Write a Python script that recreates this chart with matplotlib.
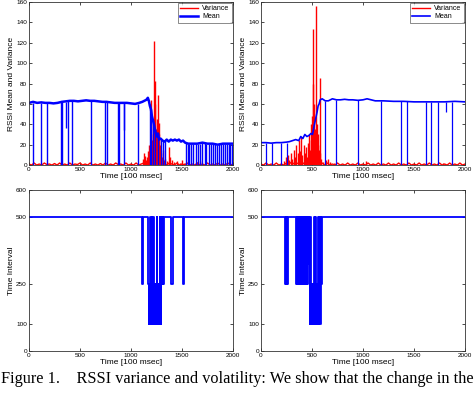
import matplotlib
matplotlib.use("Agg")
import matplotlib.pyplot as plt
import numpy as np

plt.rcParams["font.family"] = ["Liberation Sans", "DejaVu Sans"]

# ---- top panels: RSSI mean (anchor points) ----
left_mean_t = [0, 40, 80, 120, 160, 200, 240, 280, 320, 360, 400, 440, 480, 520, 560,
               600, 640, 680, 720, 760, 800, 840, 880, 920, 960, 1000, 1040, 1080, 1110,
               1130, 1150, 1165, 1175, 1185, 1195, 1205, 1215, 1225, 1235, 1245, 1255,
               1265, 1275, 1290, 1310, 1330, 1350, 1370, 1390, 1410, 1430, 1450, 1470,
               1490, 1510, 1530, 1560, 1600, 1650, 1700, 1750, 1800, 1850, 1900, 1950, 2000]
left_mean_v = [61, 62, 61, 61.5, 61, 61, 60.5, 61, 62, 62.5, 63, 63, 62.5, 63, 63.5,
               63, 63, 62.5, 62, 62, 61.5, 61, 61, 61, 61, 60.5, 60, 61, 62,
               63, 64, 66, 63, 58, 55, 48, 44, 40, 35, 30, 28,
               31, 25, 26, 24, 23, 25, 23, 25, 24, 25, 24, 25,
               23, 24, 22, 21, 21, 21, 22, 21, 21, 20, 21, 21, 21]

right_mean_t = [0, 50, 100, 150, 200, 250, 280, 310, 340, 370, 390, 410, 430, 450, 470,
                490, 505, 520, 535, 550, 560, 570, 580, 600, 630, 660, 700, 740, 780, 820,
                860, 900, 950, 1000, 1040, 1080, 1120, 1200, 1300, 1400, 1500, 1600, 1700,
                1800, 1900, 2000]
right_mean_v = [22, 22, 21.5, 22, 22, 22.5, 23, 24, 25, 24, 28, 26, 30, 28, 29,
                31, 30, 38, 45, 52, 58, 60, 64, 65, 63, 63, 65, 64, 64, 64.5,
                64, 64, 63.5, 64, 65, 64, 63, 63, 62.5, 62.5, 62, 62, 62,
                62, 62.5, 62]

# dips of the mean (vertical drops)
left_dip_t = [36, 121, 177, 313, 319, 362, 384, 420, 603, 747, 765, 870, 878, 929, 935,
              1070, 1185, 1198, 1212, 1238, 1262, 1292, 1315, 1335, 1535, 1555, 1572,
              1590, 1612, 1635, 1655, 1680, 1700, 1722, 1740, 1762, 1785, 1805, 1822,
              1845, 1862, 1880, 1898, 1918, 1940, 1958, 1975, 1990]
left_dip_lo = [0, 0, 0, 0, 0, 36, 0, 0, 0, 0, 0, 0, 0, 0, 34,
               0, 0, 0, 0, 0, 0, 0, 0, 0, 0, 0, 0,
               0, 0, 0, 0, 0, 0, 0, 0, 0, 0, 0, 0,
               0, 0, 0, 0, 0, 0, 0, 0, 0]
left_dip_hi = [61, 61, 61, 62, 62, 62, 63, 63, 63, 62, 62, 61, 61, 61, 61,
               60, 60, 55, 45, 35, 28, 25, 24, 25, 22, 21, 21,
               21, 21, 21, 21, 21, 22, 22, 21, 21, 21, 21, 21,
               20, 21, 21, 21, 21, 21, 21, 21, 21]

right_dip_t = [45, 110, 192, 253, 628, 738, 955, 1175, 1375, 1432, 1622, 1670, 1735, 1815, 1868]
right_dip_lo = [0, 0, 0, 0, 0, 0, 0, 0, 0, 0, 0, 0, 0, 52, 0]
right_dip_hi = [22, 22, 22, 22, 63, 64, 64, 63, 62.5, 62.5, 62, 62, 62, 62, 62]

# ---- variance: low baseline + spikes ----
var_base_t = [0, 25, 50, 75, 100, 125, 150, 175, 200, 225, 250, 275, 300, 325, 350, 375,
              400, 425, 450, 475, 500, 525, 550, 575, 600, 625, 650, 675, 700, 725, 750,
              775, 800, 825, 850, 875, 900, 925, 950, 975, 1000, 1025, 1050, 1075, 1100,
              1125, 1150, 1175, 1200, 1225, 1250, 1275, 1300, 1325, 1350, 1375, 1400,
              1425, 1450, 1475, 1500, 1525, 1550, 1575, 1600, 1625, 1650, 1675, 1700,
              1725, 1750, 1775, 1800, 1825, 1850, 1875, 1900, 1925, 1950, 1975, 2000]
left_var_base = [1, 0, 2, 0, 1, 0, 2, 0.5, 1, 0, 1.5, 0, 2, 0, 1, 0, 2, 0, 1, 0.5, 2,
                 0, 1, 0, 2, 0, 1, 0, 1.5, 0, 2, 0, 1, 0, 2, 0.5, 1, 0, 2, 0, 1,
                 0, 2, 0, 1, 2, 0, 3, 1, 2, 0, 3, 1, 2, 0, 2, 1, 0, 2, 0, 1,
                 0, 2, 0, 1, 0, 2, 0, 1, 0, 2, 0, 1, 0, 2, 0, 1, 0, 2, 0, 1]
right_var_base = [1, 0, 2, 0, 1, 0, 2, 0, 1, 0, 2, 1, 3, 1, 2, 1, 3, 1, 2, 1, 3,
                  1, 2, 1, 2, 0, 2, 0, 1, 0, 2, 0, 1, 0, 2, 0, 1, 0, 2, 0, 1,
                  0, 2, 0, 1, 0, 2, 0, 1, 0, 2, 0, 1, 0, 2, 0, 1, 0, 2, 0, 1,
                  0, 2, 0, 1, 0, 2, 0, 1, 0, 2, 0, 1, 0, 2, 0, 1, 0, 2, 0, 1]

left_spike_t = [1120, 1130, 1140, 1150, 1160, 1170, 1178, 1185, 1192, 1197, 1204, 1210,
                1218, 1225, 1232, 1238, 1245, 1252, 1258, 1264, 1270, 1275, 1282, 1290,
                1300, 1310, 1320, 1335, 1350, 1370, 1380, 1400, 1420, 1450, 1480, 1500,
                1520, 1560, 1650, 1680]
left_spike_h = [6, 12, 9, 5, 8, 14, 20, 10, 30, 64, 18, 25,
                40, 122, 60, 82, 35, 25, 45, 69, 30, 41, 20, 12,
                8, 15, 5, 6, 4, 18, 8, 5, 3, 4, 2, 5,
                2, 3, 3, 4]

right_spike_t = [230, 250, 262, 275, 290, 305, 320, 335, 345, 360, 372, 385, 395, 405,
                 418, 430, 440, 452, 460, 470, 480, 488, 495, 503, 509, 514, 519, 525,
                 532, 542, 548, 555, 562, 568, 574, 580, 590, 610, 640, 660, 680, 720,
                 1030, 1780]
right_spike_h = [4, 8, 10, 5, 12, 6, 15, 8, 20, 12, 25, 14, 28, 10,
                 20, 12, 18, 8, 22, 30, 15, 40, 25, 48, 133, 80, 60, 35,
                 25, 156, 40, 30, 20, 15, 85, 12, 6, 3, 5, 6, 3, 2,
                 4, 2]

# ---- bottom panels: time interval (step change points) ----
left_int_t = [0, 1110, 1122, 1170, 1174, 1178, 1182, 1186, 1190, 1193, 1197, 1201, 1205,
              1208, 1212, 1216, 1220, 1223, 1227, 1231, 1235, 1239, 1243, 1247, 1250,
              1254, 1258, 1262, 1266, 1270, 1274, 1278, 1283, 1287, 1290, 1294, 1297,
              1302, 1306, 1310, 1315, 1320, 1392, 1410, 1510, 1518, 2000]
left_int_v = [500, 250, 500, 250, 100, 250, 100, 250, 500, 100, 250, 100, 500,
              100, 250, 100, 500, 100, 250, 100, 250, 100, 250, 100, 500,
              100, 250, 100, 250, 100, 250, 100, 500, 100, 500, 100, 250,
              500, 250, 500, 250, 500, 250, 500, 250, 500, 500]

right_int_t = [0, 236, 240, 244, 248, 252, 256, 260, 264, 268, 272,
               345, 350, 355, 360, 365, 370, 375, 380, 385, 390, 395, 400, 405, 410,
               415, 420, 425, 430,
               434, 438, 442, 446, 450, 454,
               458, 463,
               475, 479, 483, 487, 491, 495, 499, 503, 507, 511, 515, 519, 523, 527,
               531, 535, 539, 543, 547, 551, 555, 559, 563, 567, 571, 575, 579, 583,
               587, 591, 595, 2000]
right_int_v = [500, 300, 250, 500, 250, 500, 250, 500, 250, 500, 500,
               250, 500, 250, 500, 250, 500, 250, 500, 250, 500, 250, 500, 250, 500,
               250, 500, 250, 500,
               250, 500, 250, 500, 250, 500,
               324, 500,
               250, 100, 500, 100, 250, 100, 250, 100, 250, 100, 500, 100, 500, 100,
               500, 100, 500, 100, 250, 100, 250, 100, 500, 100, 500, 100, 500, 100,
               500, 250, 500, 500]

BLUE = "#0000ff"
RED = "#ff0000"


def style_axis(ax, yticks, ylim):
    ax.set_xlim(0, 2000)
    ax.set_ylim(*ylim)
    ax.set_xticks([0, 500, 1000, 1500, 2000])
    ax.set_yticks(yticks)
    ax.tick_params(direction="in", length=2.5, width=0.5, labelsize=4.6, pad=1.5,
                   top=True, right=True)
    for spine in ax.spines.values():
        spine.set_linewidth(0.6)
        spine.set_color("#333333")
    ax.set_xlabel("Time [100 msec]", fontsize=6, labelpad=0.5)


def draw_top(ax, mean_t, mean_v, dip_t, dip_lo, dip_hi, base_v, spike_t, spike_h, lw, dip_lw):
    ax.plot(var_base_t, base_v, color=RED, lw=1.0, label="Variance")
    ax.vlines(spike_t, 0, spike_h, color=RED, lw=1.0)
    ax.plot(mean_t, mean_v, color=BLUE, lw=lw, label="Mean")
    ax.vlines(dip_t, dip_lo, dip_hi, color=BLUE, lw=dip_lw)
    style_axis(ax, range(0, 161, 20), (0, 160))
    ax.set_ylabel("RSSI Mean and Variance", fontsize=6, labelpad=1)
    leg = ax.legend(loc="upper right", fontsize=5, frameon=True, fancybox=False,
                    handlelength=2.6, borderpad=0.3, labelspacing=0.15,
                    handletextpad=0.6, borderaxespad=0.2)
    leg.get_frame().set_edgecolor("#333333")
    leg.get_frame().set_linewidth(0.5)


def draw_bottom(ax, t, v):
    ax.plot(t, v, color=BLUE, lw=1.3, drawstyle="steps-post")
    style_axis(ax, [0, 100, 250, 500, 600], (0, 600))
    ax.set_ylabel("Time Interval", fontsize=6, labelpad=1)


fig = plt.figure(figsize=(4.74, 3.93), dpi=100)
ax_tl = fig.add_axes([0.0612, 0.580, 0.4304, 0.415])
ax_tr = fig.add_axes([0.5506, 0.580, 0.4304, 0.415])
ax_bl = fig.add_axes([0.0612, 0.107, 0.4304, 0.409])
ax_br = fig.add_axes([0.5506, 0.107, 0.4304, 0.409])

draw_top(ax_tl, left_mean_t, left_mean_v, left_dip_t, left_dip_lo, left_dip_hi,
         left_var_base, left_spike_t, left_spike_h, lw=1.8, dip_lw=1.0)
draw_top(ax_tr, right_mean_t, right_mean_v, right_dip_t, right_dip_lo, right_dip_hi,
         right_var_base, right_spike_t, right_spike_h, lw=1.2, dip_lw=0.9)
draw_bottom(ax_bl, left_int_t, left_int_v)
draw_bottom(ax_br, right_int_t, right_int_v)

fig.text(0.003, 0.026, "Figure 1.    RSSI variance and volatility: We show that the change in the",
         family=["Liberation Serif", "DejaVu Serif"], fontsize=11.7, ha="left", va="baseline")

fig.savefig("out.png", dpi=100)
